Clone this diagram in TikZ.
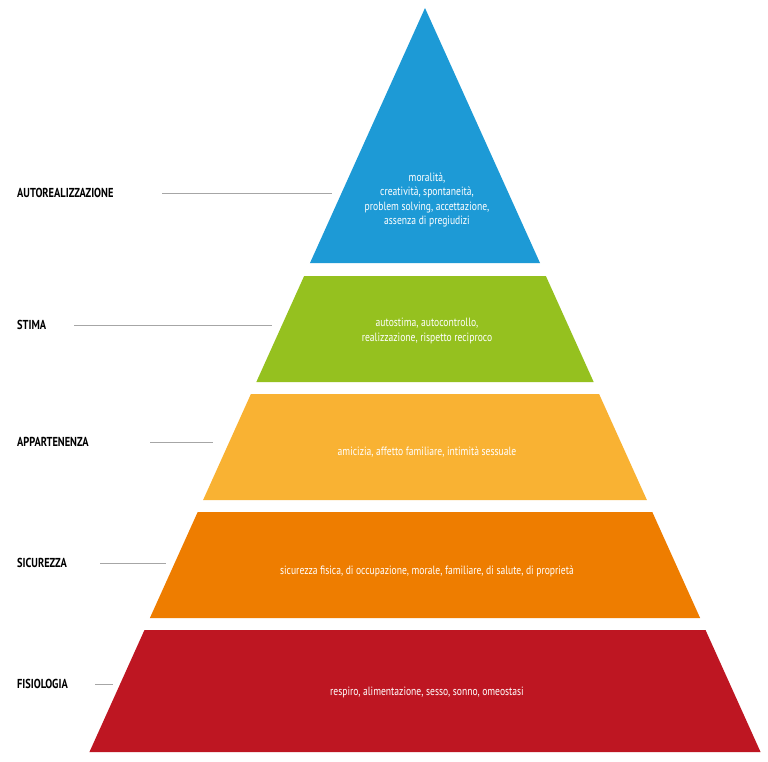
\documentclass[tikz,border=0pt]{standalone}
\usepackage{fontspec}
\setmainfont{PT Sans}[FakeStretch=0.8]
\definecolor{cBlue}{HTML}{1D9AD6}
\definecolor{cGreen}{HTML}{95C11F}
\definecolor{cYellow}{HTML}{F9B233}
\definecolor{cOrange}{HTML}{EE7D00}
\definecolor{cRed}{HTML}{BE1622}
\tikzset{
    level/.style={draw=none},
    lbl/.style={anchor=west, inner sep=0pt, font=\bfseries\fontsize{13}{13}\selectfont},
    txt/.style={text=white, align=center, font=\fontsize{12}{14.5}\selectfont},
    lead/.style={draw=gray!70, line width=0.6pt}
}
% half width of the pyramid at height y
\newcommand{\hw}[1]{0.451*(#1-8)}
\begin{document}
\begin{tikzpicture}[x=1pt, y=-1pt]
    \useasboundingbox (0,0) rectangle (768,761);
    \fill[white] (0,0) rectangle (768,761);
    \fill[cBlue] (425,8) -- ({425-\hw{263}},263) -- ({425+\hw{263}},263) -- cycle;
    \fill[cGreen] ({425-\hw{276}},276) -- ({425+\hw{276}},276) -- ({425+\hw{382}},382) -- ({425-\hw{382}},382) -- cycle;
    \fill[cYellow] ({425-\hw{394}},394) -- ({425+\hw{394}},394) -- ({425+\hw{500}},500) -- ({425-\hw{500}},500) -- cycle;
    \fill[cOrange] ({425-\hw{512}},512) -- ({425+\hw{512}},512) -- ({425+\hw{618}},618) -- ({425-\hw{618}},618) -- cycle;
    \fill[cRed] ({425-\hw{630}},630) -- ({425+\hw{630}},630) -- ({425+\hw{752}},752) -- ({425-\hw{752}},752) -- cycle;
    % texts inside
    \node[txt] (tAuto) at (427,200) {moralità,\\creatività, spontaneità,\\problem solving, accettazione,\\assenza di pregiudizi};
    \node[txt] (tStima) at (427,331) {autostima, autocontrollo,\\realizzazione, rispetto reciproco};
    \node[txt] (tApp) at (427,452) {amicizia, affetto familiare, intimità sessuale};
    \node[txt] (tSic) at (427,571) {sicurezza fisica, di occupazione, morale, familiare, di salute, di proprietà};
    \node[txt] (tFis) at (427,692) {respiro, alimentazione, sesso, sonno, omeostasi};
    % labels
    \node[lbl] (lAuto) at (17,193) {AUTOREALIZZAZIONE};
    \node[lbl] (lStima) at (17,325) {STIMA};
    \node[lbl] (lApp) at (17,442) {APPARTENENZA};
    \node[lbl] (lSic) at (17,563) {SICUREZZA};
    \node[lbl] (lFis) at (17,684) {FISIOLOGIA};
    \coordinate (eAuto) at (332,193);
    \coordinate (eStima) at (272,325);
    \coordinate (eApp) at (213,442);
    \coordinate (eSic) at (166,563);
    \coordinate (eFis) at (113,684);
    \draw[lead] (162,193) -- (eAuto);
    \draw[lead] (74,325) -- (eStima);
    \draw[lead] (150,442) -- (eApp);
    \draw[lead] (100,563) -- (eSic);
    \draw[lead] (95,684) -- (eFis);
\end{tikzpicture}
\end{document}
